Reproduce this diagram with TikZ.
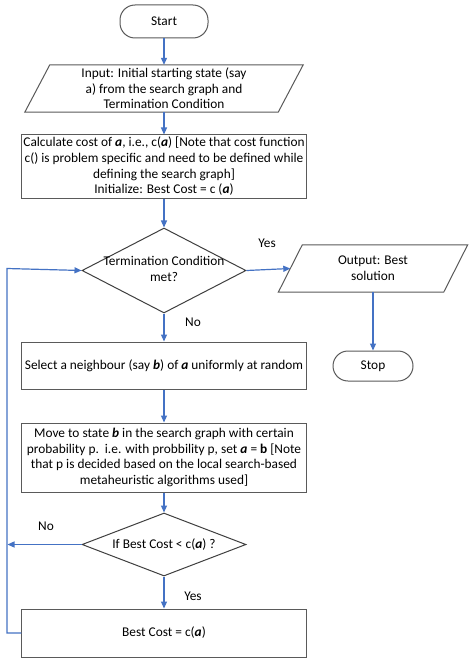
\documentclass[tikz,border=0pt]{standalone}
\usepackage{fontspec}
\setmainfont{Carlito}
\usetikzlibrary{shapes.geometric,arrows.meta}
\definecolor{arrowblue}{HTML}{4472C4}
\definecolor{edgegray}{HTML}{5A5A5A}
\tikzset{
  txt/.style={font=\fontsize{13.4}{15.7}\selectfont, align=center, inner sep=0pt},
  boxnode/.style={txt, draw=edgegray, line width=1bp, rectangle, minimum width=284bp},
  termnode/.style={txt, draw=edgegray, line width=1bp, rectangle, rounded corners=15bp},
  decnode/.style={draw=edgegray!70!black, line width=1bp, diamond, inner sep=0pt, minimum width=164bp},
  ionode/.style={txt, draw=none, rectangle},
  iobord/.style={draw=edgegray, line width=1bp},
  conn/.style={draw=arrowblue, line width=1.2bp, -{Triangle[length=7bp,width=6bp]}},
  lbl/.style={font=\fontsize{13.4}{15}\selectfont, inner sep=0pt},
}
\newcommand{\ba}{\textbf{\textit{a}}}
\newcommand{\bb}{\textbf{\textit{b}}}
\begin{document}
\begin{tikzpicture}[x=1bp,y=-1bp]
\useasboundingbox (0,0) rectangle (474,663);
\fill[white] (0,0) rectangle (474,663);

\node[termnode, minimum width=88bp, minimum height=33bp] (start) at (164,21.5) {Start};

\node[ionode, minimum width=253bp, minimum height=47bp] (input) at (164,88.5)
  {Input: Initial starting state (say\\a) from the search graph and\\Termination Condition};
\draw[iobord] ([xshift=-12.5bp]input.south west) -- ([xshift=12.5bp]input.north west)
  -- ([xshift=12.5bp]input.north east) -- ([xshift=-12.5bp]input.south east) -- cycle;

\node[boxnode, minimum height=63bp] (calc) at (164,166.5)
  {Calculate cost of \ba, i.e., c(\ba) [Note that cost function\\c() is problem specific and need to be defined while\\defining the search graph]\\Initialize: Best Cost = c (\ba)};

\node[decnode, minimum height=85bp] (d1) at (164,270.5) {};
\node[txt] (d1t) at (164,269) {Termination Condition\\met?};

\node[ionode, minimum width=165bp, minimum height=47bp] (output) at (373,268.5)
  {Output: Best\\solution};
\draw[iobord] ([xshift=-12bp]output.south west) -- ([xshift=12bp]output.north west)
  -- ([xshift=12bp]output.north east) -- ([xshift=-12bp]output.south east) -- cycle;

\node[termnode, minimum width=80bp, minimum height=30bp] (stop) at (373,366) {Stop};

\node[boxnode, minimum height=47bp] (sel) at (164,365.5)
  {Select a neighbour (say \bb) of \ba\ uniformly at random};

\node[boxnode, minimum height=69bp] (move) at (164,457.5)
  {Move to state \bb\ in the search graph with certain\\probability p.\ \ i.e. with probbility p, set \ba\ = \textbf{b} [Note\\that p is decided based on the local search-based\\metaheuristic algorithms used]};

\node[decnode, minimum height=63bp] (d2) at (164,544.5) {};
\node[txt] (d2t) at (164,545) {If Best Cost < c(\ba) ?};

\node[boxnode, minimum height=48bp] (best) at (164,633) {Best Cost = c(\ba)};

\coordinate (l1) at (7,633);
\coordinate (l2) at (7,268.5);
\coordinate (l3) at (7.5,544.5);

\draw[conn] (start) -- (input);
\draw[conn] (input) -- (calc);
\draw[conn] (calc) -- (d1);
\draw[conn] (d1) -- (sel);
\draw[conn] (sel) -- (move);
\draw[conn] (move) -- (d2);
\draw[conn] (d2) -- (best);
\draw[conn] (d1.east) -- (output.west);
\draw[conn] (output) -- (stop);
\draw[conn] (d2.west) -- (l3);
\draw[conn] (best.west) -- (l1) -- (l2) -- (d1.west);

\node[lbl] (yes1) at (267,243) {Yes};
\node[lbl] (no1) at (193,322) {No};
\node[lbl] (no2) at (46,526) {No};
\node[lbl] (yes2) at (193,596) {Yes};
\end{tikzpicture}
\end{document}
